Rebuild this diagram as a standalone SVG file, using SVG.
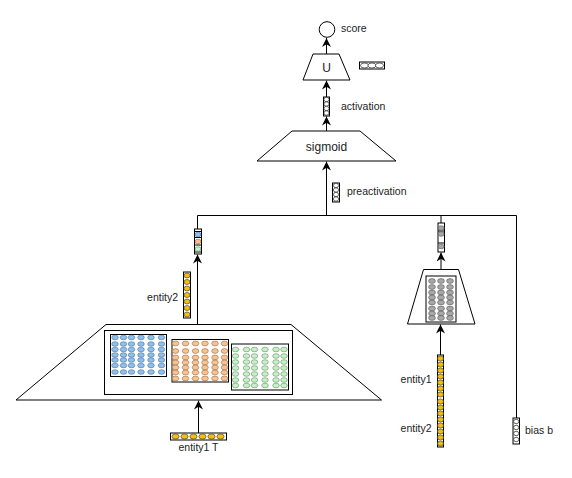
<svg xmlns="http://www.w3.org/2000/svg" width="572" height="478" viewBox="0 0 572 478">
<style>
.ln{fill:none;stroke:#000;stroke-width:1}
.sh{fill:#fff;stroke:#000;stroke-width:1}
.t{font-family:"Liberation Sans",Arial,sans-serif;font-size:10.5px;fill:#222}
.tb{font-family:"Liberation Sans",Arial,sans-serif;font-size:12px;fill:#222}
.w{fill:#fff;stroke:#000;stroke-width:0.6}
.y{fill:#f5bd0c;stroke:#333;stroke-width:0.6}
.b{fill:#8ec0ee;stroke:#3a5f85;stroke-width:0.5}
.o{fill:#f8c291;stroke:#8a5a30;stroke-width:0.5}
.g{fill:#c8f0c8;stroke:#4a7a4a;stroke-width:0.5}
.k{fill:#a8a8a8;stroke:#444;stroke-width:0.5}
</style>
<defs>
<marker id="ar" markerUnits="userSpaceOnUse" viewBox="0 0 10 10" refX="10" refY="5" markerWidth="9" markerHeight="9" orient="auto">
<path d="M0,0 L10,5 L0,10 L3,5 z" fill="#000"/>
</marker>
<ellipse id="mb" rx="3.3" ry="2.3" class="b"/>
<ellipse id="mo" rx="3.3" ry="2.4" class="o"/>
<ellipse id="mg" rx="3.3" ry="2.3" class="g"/>
<ellipse id="mk" rx="3.4" ry="2.4" class="k"/>
<ellipse id="vy" rx="3" ry="2.5" class="y"/>
<ellipse id="vw" rx="2.6" ry="2.2" class="w"/>
</defs>

<g id="connectors">
<path class="ln" d="M326.5,54 V38" marker-end="url(#ar)"/>
<path class="ln" d="M326.5,97 V80.5" marker-end="url(#ar)"/>
<path class="ln" d="M326.5,131 V116.5" marker-end="url(#ar)"/>
<path class="ln" d="M326.5,215.5 V161.5" marker-end="url(#ar)"/>
<path class="ln" d="M197.5,229 V215.5 H516.5 V418"/>
<path class="ln" d="M441,216 V223"/>
<path class="ln" d="M197.5,324 V254.5" marker-end="url(#ar)"/>
<path class="ln" d="M441,269.5 V252.5" marker-end="url(#ar)"/>
<path class="ln" d="M440.5,355 V324.5" marker-end="url(#ar)"/>
<path class="ln" d="M198.5,433 V400.5" marker-end="url(#ar)"/>
</g>

<g id="score">
<circle cx="327" cy="29.5" r="7.8" class="sh"/>
<text class="t" x="341" y="31.5">score</text>
</g>

<g id="U">
<path class="sh" d="M313,54 H339 L350,80 H303 Z"/>
<text class="tb" x="326.5" y="71.5" text-anchor="middle">U</text>
</g>

<g id="U-weights">
<rect class="sh" x="359.5" y="62" width="25" height="7"/>
<ellipse cx="364.5" cy="65.5" rx="4" ry="2.5" class="w"/>
<ellipse cx="372" cy="65.5" rx="4" ry="2.5" class="w"/>
<ellipse cx="379.5" cy="65.5" rx="4" ry="2.5" class="w"/>
</g>

<g id="activation">
<rect class="sh" x="323.5" y="97" width="6" height="19"/>
<use href="#vw" x="326.5" y="99.5"/>
<use href="#vw" x="326.5" y="104"/>
<use href="#vw" x="326.5" y="108.5"/>
<use href="#vw" x="326.5" y="113"/>
<text class="t" x="341" y="110">activation</text>
</g>

<g id="sigmoid">
<path class="sh" d="M292,131 H360 L396,161 H257 Z"/>
<text class="tb" x="326.5" y="150.5" text-anchor="middle">sigmoid</text>
</g>

<g id="preactivation">
<rect class="sh" x="332.5" y="183" width="7" height="19"/>
<use href="#vw" x="336" y="185.5"/>
<use href="#vw" x="336" y="190"/>
<use href="#vw" x="336" y="194.5"/>
<use href="#vw" x="336" y="199"/>
<text class="t" x="347" y="195">preactivation</text>
</g>

<g id="concat-vector">
<rect class="sh" x="194.5" y="229" width="7" height="25"/>
<path class="ln" stroke-width="0.6" d="M194.5,231.5 H201.5 M194.5,237.5 H201.5 M194.5,245 H201.5 M194.5,252 H201.5"/>
<ellipse cx="198" cy="234.5" rx="3" ry="2.3" class="b"/>
<ellipse cx="198" cy="241.5" rx="3" ry="2.3" class="o"/>
<ellipse cx="198" cy="249" rx="3" ry="2.3" class="g"/>
</g>

<g id="entity2-left">
<rect class="sh" x="183.5" y="272" width="7" height="46"/>
<use href="#vy" x="187" y="275.5"/>
<use href="#vy" x="187" y="282"/>
<use href="#vy" x="187" y="288.5"/>
<use href="#vy" x="187" y="295"/>
<use href="#vy" x="187" y="301.5"/>
<use href="#vy" x="187" y="308"/>
<use href="#vy" x="187" y="314.5"/>
<text class="t" x="178" y="301" text-anchor="end">entity2</text>
</g>

<g id="bilinear">
<path class="sh" d="M106,324.5 H291 L381.5,400 H16 Z"/>
<rect class="sh" x="104.5" y="330.5" width="188" height="64"/>
<rect class="sh" x="110.5" y="334.5" width="56" height="42"/>
<g>
<use href="#mb" x="115" y="337.5"/><use href="#mb" x="123.5" y="337.5"/><use href="#mb" x="131.5" y="337.5"/><use href="#mb" x="141" y="337.5"/><use href="#mb" x="151" y="337.5"/><use href="#mb" x="161.5" y="337.5"/>
<use href="#mb" x="115" y="344"/><use href="#mb" x="123.5" y="344"/><use href="#mb" x="131.5" y="344"/><use href="#mb" x="141" y="344"/><use href="#mb" x="151" y="344"/><use href="#mb" x="161.5" y="344"/>
<use href="#mb" x="115" y="349.5"/><use href="#mb" x="123.5" y="349.5"/><use href="#mb" x="131.5" y="349.5"/><use href="#mb" x="141" y="349.5"/><use href="#mb" x="151" y="349.5"/><use href="#mb" x="161.5" y="349.5"/>
<use href="#mb" x="115" y="355"/><use href="#mb" x="123.5" y="355"/><use href="#mb" x="131.5" y="355"/><use href="#mb" x="141" y="355"/><use href="#mb" x="151" y="355"/><use href="#mb" x="161.5" y="355"/>
<use href="#mb" x="115" y="360"/><use href="#mb" x="123.5" y="360"/><use href="#mb" x="131.5" y="360"/><use href="#mb" x="141" y="360"/><use href="#mb" x="151" y="360"/><use href="#mb" x="161.5" y="360"/>
<use href="#mb" x="115" y="365.5"/><use href="#mb" x="123.5" y="365.5"/><use href="#mb" x="131.5" y="365.5"/><use href="#mb" x="141" y="365.5"/><use href="#mb" x="151" y="365.5"/><use href="#mb" x="161.5" y="365.5"/>
<use href="#mb" x="115" y="372"/><use href="#mb" x="123.5" y="372"/><use href="#mb" x="131.5" y="372"/><use href="#mb" x="141" y="372"/><use href="#mb" x="151" y="372"/><use href="#mb" x="161.5" y="372"/>
</g>
<rect class="sh" x="172" y="339.5" width="56.5" height="42.5"/>
<g>
<use href="#mo" x="175.5" y="343.5"/><use href="#mo" x="185.5" y="343.5"/><use href="#mo" x="195.5" y="343.5"/><use href="#mo" x="205" y="343.5"/><use href="#mo" x="215" y="343.5"/><use href="#mo" x="224.5" y="343.5"/>
<use href="#mo" x="175.5" y="351"/><use href="#mo" x="185.5" y="351"/><use href="#mo" x="195.5" y="351"/><use href="#mo" x="205" y="351"/><use href="#mo" x="215" y="351"/><use href="#mo" x="224.5" y="351"/>
<use href="#mo" x="175.5" y="357.5"/><use href="#mo" x="185.5" y="357.5"/><use href="#mo" x="195.5" y="357.5"/><use href="#mo" x="205" y="357.5"/><use href="#mo" x="215" y="357.5"/><use href="#mo" x="224.5" y="357.5"/>
<use href="#mo" x="175.5" y="362.5"/><use href="#mo" x="185.5" y="362.5"/><use href="#mo" x="195.5" y="362.5"/><use href="#mo" x="205" y="362.5"/><use href="#mo" x="215" y="362.5"/><use href="#mo" x="224.5" y="362.5"/>
<use href="#mo" x="175.5" y="367.5"/><use href="#mo" x="185.5" y="367.5"/><use href="#mo" x="195.5" y="367.5"/><use href="#mo" x="205" y="367.5"/><use href="#mo" x="215" y="367.5"/><use href="#mo" x="224.5" y="367.5"/>
<use href="#mo" x="175.5" y="372.5"/><use href="#mo" x="185.5" y="372.5"/><use href="#mo" x="195.5" y="372.5"/><use href="#mo" x="205" y="372.5"/><use href="#mo" x="215" y="372.5"/><use href="#mo" x="224.5" y="372.5"/>
<use href="#mo" x="175.5" y="378.5"/><use href="#mo" x="185.5" y="378.5"/><use href="#mo" x="195.5" y="378.5"/><use href="#mo" x="205" y="378.5"/><use href="#mo" x="215" y="378.5"/><use href="#mo" x="224.5" y="378.5"/>
</g>
<rect class="sh" x="231.5" y="344" width="57" height="46"/>
<g>
<use href="#mg" x="235.5" y="349.5"/><use href="#mg" x="246.5" y="349.5"/><use href="#mg" x="254.5" y="349.5"/><use href="#mg" x="265" y="349.5"/><use href="#mg" x="276" y="349.5"/><use href="#mg" x="284" y="349.5"/>
<use href="#mg" x="235.5" y="356"/><use href="#mg" x="246.5" y="356"/><use href="#mg" x="254.5" y="356"/><use href="#mg" x="265" y="356"/><use href="#mg" x="276" y="356"/><use href="#mg" x="284" y="356"/>
<use href="#mg" x="235.5" y="362"/><use href="#mg" x="246.5" y="362"/><use href="#mg" x="254.5" y="362"/><use href="#mg" x="265" y="362"/><use href="#mg" x="276" y="362"/><use href="#mg" x="284" y="362"/>
<use href="#mg" x="235.5" y="368"/><use href="#mg" x="246.5" y="368"/><use href="#mg" x="254.5" y="368"/><use href="#mg" x="265" y="368"/><use href="#mg" x="276" y="368"/><use href="#mg" x="284" y="368"/>
<use href="#mg" x="235.5" y="374"/><use href="#mg" x="246.5" y="374"/><use href="#mg" x="254.5" y="374"/><use href="#mg" x="265" y="374"/><use href="#mg" x="276" y="374"/><use href="#mg" x="284" y="374"/>
<use href="#mg" x="235.5" y="380"/><use href="#mg" x="246.5" y="380"/><use href="#mg" x="254.5" y="380"/><use href="#mg" x="265" y="380"/><use href="#mg" x="276" y="380"/><use href="#mg" x="284" y="380"/>
<use href="#mg" x="235.5" y="385.5"/><use href="#mg" x="246.5" y="385.5"/><use href="#mg" x="254.5" y="385.5"/><use href="#mg" x="265" y="385.5"/><use href="#mg" x="276" y="385.5"/><use href="#mg" x="284" y="385.5"/>
</g>
</g>

<g id="entity1T">
<rect class="sh" x="170.5" y="433" width="56" height="7"/>
<ellipse cx="175.5" cy="436.5" rx="3.6" ry="2.6" class="y"/>
<ellipse cx="184.5" cy="436.5" rx="3.6" ry="2.6" class="y"/>
<ellipse cx="193.5" cy="436.5" rx="3.6" ry="2.6" class="y"/>
<ellipse cx="202.5" cy="436.5" rx="3.6" ry="2.6" class="y"/>
<ellipse cx="211.5" cy="436.5" rx="3.6" ry="2.6" class="y"/>
<ellipse cx="220.5" cy="436.5" rx="3.6" ry="2.6" class="y"/>
<text class="t" x="198.5" y="450.5" text-anchor="middle">entity1 T</text>
</g>

<g id="hidden-vector">
<rect class="sh" x="438" y="223" width="6.5" height="29"/>
<path class="ln" stroke-width="0.6" d="M438,231 H444.5 M438,243 H444.5"/>
<ellipse cx="441.2" cy="228" rx="3" ry="2.3" class="k"/>
<ellipse cx="441.2" cy="234" rx="3" ry="2.3" class="k"/>
<ellipse cx="441.2" cy="246.5" rx="3" ry="2.3" class="k"/>
</g>

<g id="linear">
<path class="sh" d="M423.5,269.5 H458.5 L475,324 H407.5 Z"/>
<rect class="sh" x="426" y="276" width="30" height="46"/>
<use href="#mk" x="432" y="281"/><use href="#mk" x="441" y="281"/><use href="#mk" x="450" y="281"/>
<use href="#mk" x="432" y="287"/><use href="#mk" x="441" y="287"/><use href="#mk" x="450" y="287"/>
<use href="#mk" x="432" y="292.5"/><use href="#mk" x="441" y="292.5"/><use href="#mk" x="450" y="292.5"/>
<use href="#mk" x="432" y="297.5"/><use href="#mk" x="441" y="297.5"/><use href="#mk" x="450" y="297.5"/>
<use href="#mk" x="432" y="302.5"/><use href="#mk" x="441" y="302.5"/><use href="#mk" x="450" y="302.5"/>
<use href="#mk" x="432" y="308.5"/><use href="#mk" x="441" y="308.5"/><use href="#mk" x="450" y="308.5"/>
<use href="#mk" x="432" y="313.5"/><use href="#mk" x="441" y="313.5"/><use href="#mk" x="450" y="313.5"/>
<use href="#mk" x="432" y="318"/><use href="#mk" x="441" y="318"/><use href="#mk" x="450" y="318"/>
</g>

<g id="entity-concat">
<rect class="sh" x="437.5" y="355" width="6" height="92"/>
<use href="#vy" x="440.5" y="358.5"/>
<use href="#vy" x="440.5" y="364.5"/>
<use href="#vy" x="440.5" y="370.5"/>
<use href="#vy" x="440.5" y="376.5"/>
<use href="#vy" x="440.5" y="382.5"/>
<use href="#vy" x="440.5" y="388.5"/>
<use href="#vy" x="440.5" y="394.5"/>
<use href="#vy" x="440.5" y="401.5"/>
<use href="#vy" x="440.5" y="407.5"/>
<use href="#vy" x="440.5" y="413.5"/>
<use href="#vy" x="440.5" y="419.5"/>
<use href="#vy" x="440.5" y="425.5"/>
<use href="#vy" x="440.5" y="431.5"/>
<use href="#vy" x="440.5" y="437.5"/>
<use href="#vy" x="440.5" y="443.5"/>
<text class="t" x="431.5" y="383" text-anchor="end">entity1</text>
<text class="t" x="431.5" y="431.5" text-anchor="end">entity2</text>
</g>

<g id="bias">
<rect class="sh" x="513" y="418" width="6.5" height="26"/>
<use href="#vw" x="516.2" y="421.5"/>
<use href="#vw" x="516.2" y="427.5"/>
<use href="#vw" x="516.2" y="433.5"/>
<use href="#vw" x="516.2" y="439.5"/>
<text class="t" x="525" y="434">bias b</text>
</g>
</svg>
